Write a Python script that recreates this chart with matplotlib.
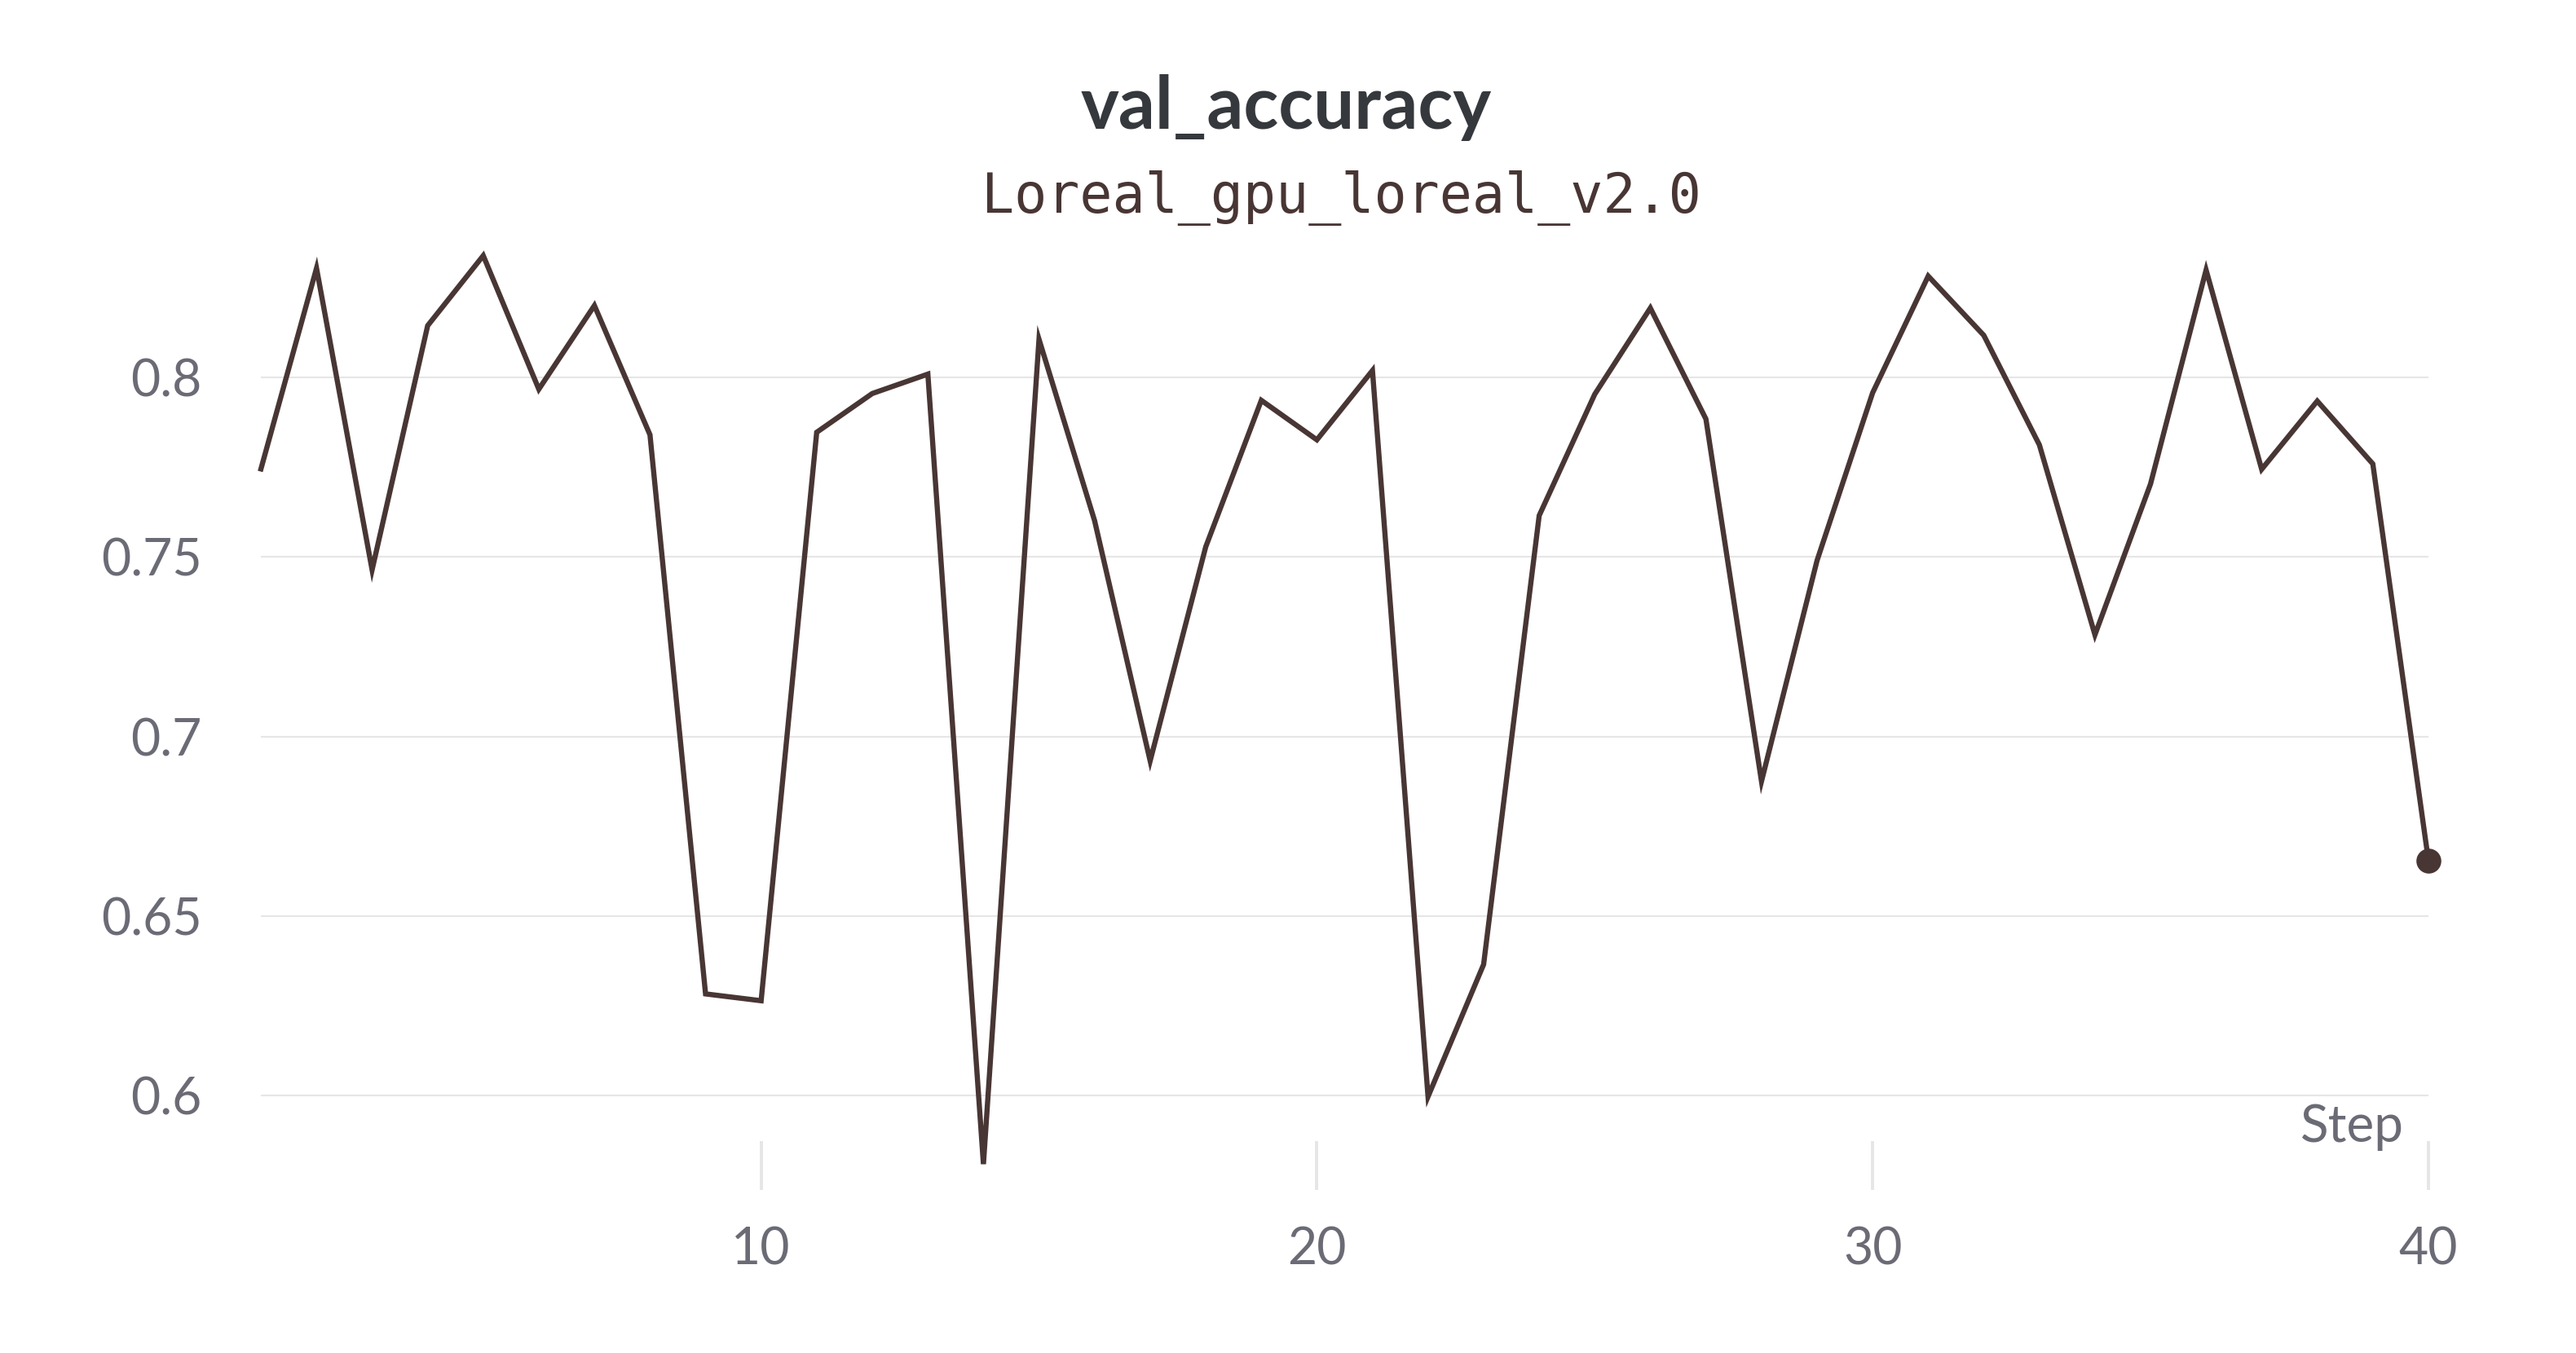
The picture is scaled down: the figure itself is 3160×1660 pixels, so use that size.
import numpy as np
import matplotlib
matplotlib.use('Agg')
import matplotlib.pyplot as plt

# Werte
steps = np.arange(1, 41)
val_accuracy = [
    0.7745, 0.8304, 0.7464, 0.8144, 0.8339, 0.7967, 0.8200, 0.7840, 0.6283, 0.6264,
    0.7847, 0.7955, 0.8009, 0.5809, 0.8106, 0.7601, 0.6932, 0.7528, 0.7936, 0.7826,
    0.8019, 0.5997, 0.6365, 0.7615, 0.7953, 0.8193, 0.7884, 0.6875, 0.7490, 0.7957,
    0.8282, 0.8117, 0.7812, 0.7283, 0.7703, 0.8299, 0.7744, 0.7934, 0.7759, 0.6655,
]
x_ticks = [10, 20, 30, 40]
y_ticks = [0.6, 0.65, 0.7, 0.75, 0.8]
y_labels = ['0.6', '0.65', '0.7', '0.75', '0.8']

line_col = '#483634'
tick_col = '#6b6b76'
grid_col = '#e6e6e6'

plt.rcParams['font.family'] = ['Lato', 'DejaVu Sans']

fig = plt.figure(figsize=(15.8, 8.3), dpi=200)
ax = fig.add_axes([0.1013, 0.1205, 0.8414, 0.6988])

ax.plot(steps, val_accuracy, color=line_col, lw=2.3, clip_on=False, solid_joinstyle='miter')
ax.plot(steps[-1], val_accuracy[-1], 'o', color=line_col, ms=10, clip_on=False)

ax.set_xlim(1, 40)
ax.set_ylim(0.5737, 0.837)
ax.set_xticks(x_ticks)
ax.set_yticks(y_ticks)
ax.set_yticklabels(y_labels)

for s in ax.spines.values():
    s.set_visible(False)

ax.grid(axis='y', color=grid_col, lw=0.75)
ax.set_axisbelow(True)
ax.tick_params(axis='y', length=0, pad=26, labelsize=22.5, labelcolor=tick_col)
ax.tick_params(axis='x', direction='in', length=21.6, width=1.4, color=grid_col,
               pad=16, labelsize=22.5, labelcolor=tick_col)

ax.text(0.9888, 0.066, 'Step', transform=ax.transAxes, ha='right', va='center',
        fontsize=23, color=tick_col)

# Titel und Untertitel
fig.text(0.4994, 0.9205, 'val_accuracy', ha='center', va='center',
         fontsize=32, fontweight='bold', color='#35383c')
fig.text(0.5206, 0.8536, 'Loreal_gpu_loreal_v2.0', ha='center', va='center',
         fontsize=24, family='DejaVu Sans Mono', color=line_col)

fig.savefig('out.png', dpi=200, facecolor='white')
